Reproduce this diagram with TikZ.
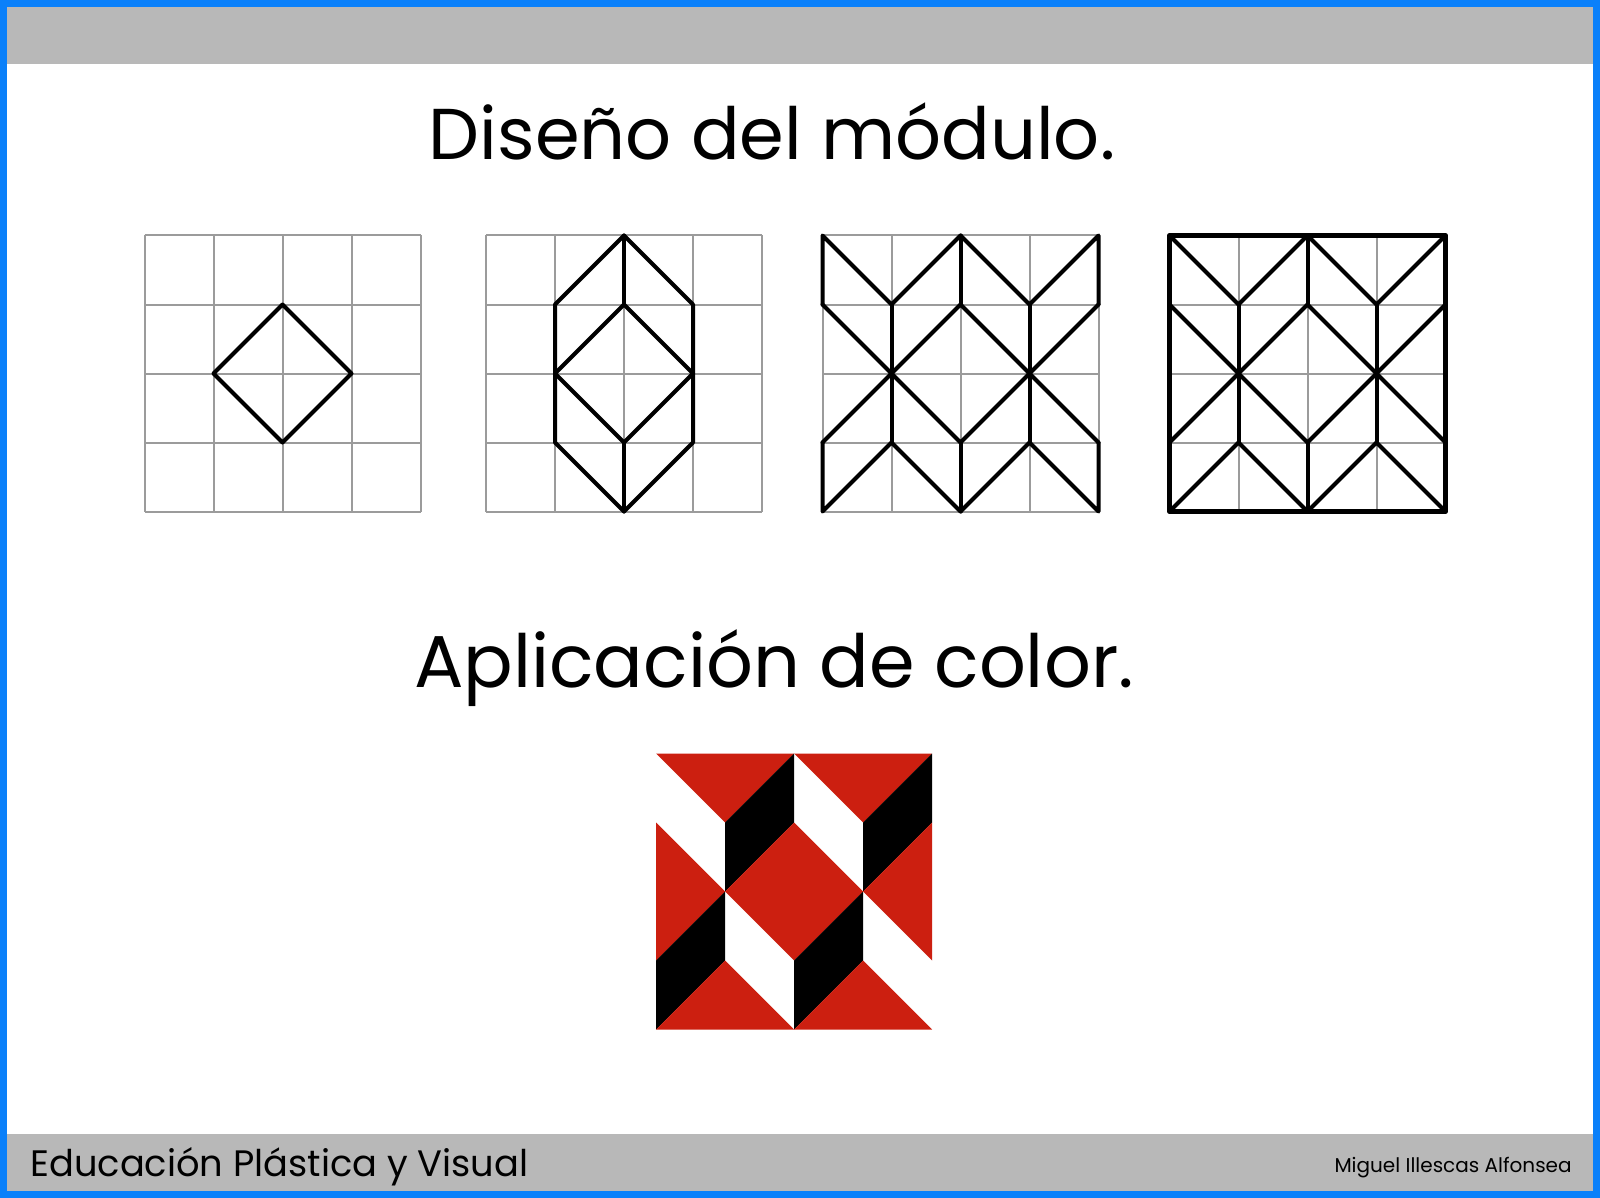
\documentclass[tikz,border=0pt]{standalone}
\usepackage{fontspec}
\setmainfont{Poppins}
\definecolor{frameblue}{RGB}{10,128,250}
\definecolor{bargrey}{RGB}{184,184,184}
\definecolor{gridgrey}{RGB}{155,155,155}
\definecolor{modred}{RGB}{204,31,16}
\begin{document}
\begin{tikzpicture}[x=0.5pt,y=-0.5pt,
  gridline/.style={draw=gridgrey,line width=1pt},
  motif/.style={draw=black,line width=2pt,line cap=round,line join=round},
  cell/.style={x=34.5pt,y=-34.5pt},
  redpiece/.style={fill=modred},
  blackpiece/.style={fill=black},
  titletext/.style={anchor=base,inner sep=0pt,font=\fontsize{36}{43}\selectfont},
  footbig/.style={anchor=base west,inner sep=0pt,font=\fontsize{18.4}{22}\selectfont},
  footsmall/.style={anchor=base east,inner sep=0pt,font=\fontsize{10}{12}\selectfont}]
\useasboundingbox (0,0) rectangle (1600,1198);
% frame and bars
\fill[frameblue] (0,0) rectangle (1600,1198);
\fill[white] (7,7) rectangle (1593,1191);
\fill[bargrey] (7,7) rectangle (1593,64);
\fill[bargrey] (7,1134) rectangle (1593,1191);
% titles
\node[titletext] (title1) at (772,160) {Diseño del módulo.};
\node[titletext,font=\fontsize{36.7}{44}\selectfont] (title2) at (774,687) {Aplicación de color.};
\node[footbig] (foot1) at (30,1176) {Educación Plástica y Visual};
\node[footsmall] (foot2) at (1572,1172) {Miguel Illescas Alfonsea};
% grid 1
\begin{scope}[xshift=72.25pt,yshift=-117.75pt,cell]
  \foreach \i in {0,...,4} {\draw[gridline] (\i,0) -- (\i,4); \draw[gridline] (0,\i) -- (4,\i);}
  \draw[motif] (2,1) -- (3,2) -- (2,3) -- (1,2) -- cycle;
\end{scope}
% grid 2
\begin{scope}[xshift=243pt,yshift=-117.75pt,cell]
  \foreach \i in {0,...,4} {\draw[gridline] (\i,0) -- (\i,4); \draw[gridline] (0,\i) -- (4,\i);}
  \draw[motif] (2,0) -- (1,1) -- (1,3) -- (2,4) -- (3,3) -- (3,1) -- cycle;
  \draw[motif] (2,1) -- (3,2) -- (2,3) -- (1,2) -- cycle;
  \draw[motif] (2,0) -- (2,1) (2,3) -- (2,4);
\end{scope}
% grid 3
\begin{scope}[xshift=411.25pt,yshift=-117.75pt,cell]
  \foreach \i in {0,...,4} {\draw[gridline] (\i,0) -- (\i,4); \draw[gridline] (0,\i) -- (4,\i);}
  \draw[motif] (0,1) -- (0,0) -- (1,1) -- (2,0) -- (3,1) -- (4,0) -- (4,1);
  \draw[motif] (0,3) -- (0,4) -- (1,3) -- (2,4) -- (3,3) -- (4,4) -- (4,3);
  \draw[motif] (0,1) -- (1,2) -- (2,1) -- (3,2) -- (4,1);
  \draw[motif] (0,3) -- (1,2) -- (2,3) -- (3,2) -- (4,3);
  \draw[motif] (1,1) -- (1,3) (3,1) -- (3,3) (2,0) -- (2,1) (2,3) -- (2,4);
\end{scope}
% grid 4
\begin{scope}[xshift=584.75pt,yshift=-117.75pt,cell]
  \foreach \i in {0,...,4} {\draw[gridline] (\i,0) -- (\i,4); \draw[gridline] (0,\i) -- (4,\i);}
  \draw[motif] (0,0) -- (1,1) -- (2,0) -- (3,1) -- (4,0);
  \draw[motif] (0,4) -- (1,3) -- (2,4) -- (3,3) -- (4,4);
  \draw[motif] (0,1) -- (1,2) -- (2,1) -- (3,2) -- (4,1);
  \draw[motif] (0,3) -- (1,2) -- (2,3) -- (3,2) -- (4,3);
  \draw[motif] (1,1) -- (1,3) (3,1) -- (3,3) (2,0) -- (2,1) (2,3) -- (2,4);
  \draw[motif,line width=2.4pt] (0,0) rectangle (4,4);
\end{scope}
% coloured module
\begin{scope}[xshift=328pt,yshift=-376.75pt,cell]
  \fill[redpiece] (0,0) -- (2,0) -- (1,1) -- cycle;
  \fill[redpiece] (2,0) -- (4,0) -- (3,1) -- cycle;
  \fill[blackpiece] (1,1) -- (2,0) -- (2,1) -- (1,2) -- cycle;
  \fill[blackpiece] (3,1) -- (4,0) -- (4,1) -- (3,2) -- cycle;
  \fill[redpiece] (0,1) -- (1,2) -- (0,3) -- cycle;
  \fill[redpiece] (2,1) -- (3,2) -- (2,3) -- (1,2) -- cycle;
  \fill[redpiece] (4,1) -- (3,2) -- (4,3) -- cycle;
  \fill[blackpiece] (0,3) -- (1,2) -- (1,3) -- (0,4) -- cycle;
  \fill[blackpiece] (2,3) -- (3,2) -- (3,3) -- (2,4) -- cycle;
  \fill[redpiece] (0,4) -- (1,3) -- (2,4) -- cycle;
  \fill[redpiece] (2,4) -- (3,3) -- (4,4) -- cycle;
\end{scope}
\end{tikzpicture}
\end{document}
